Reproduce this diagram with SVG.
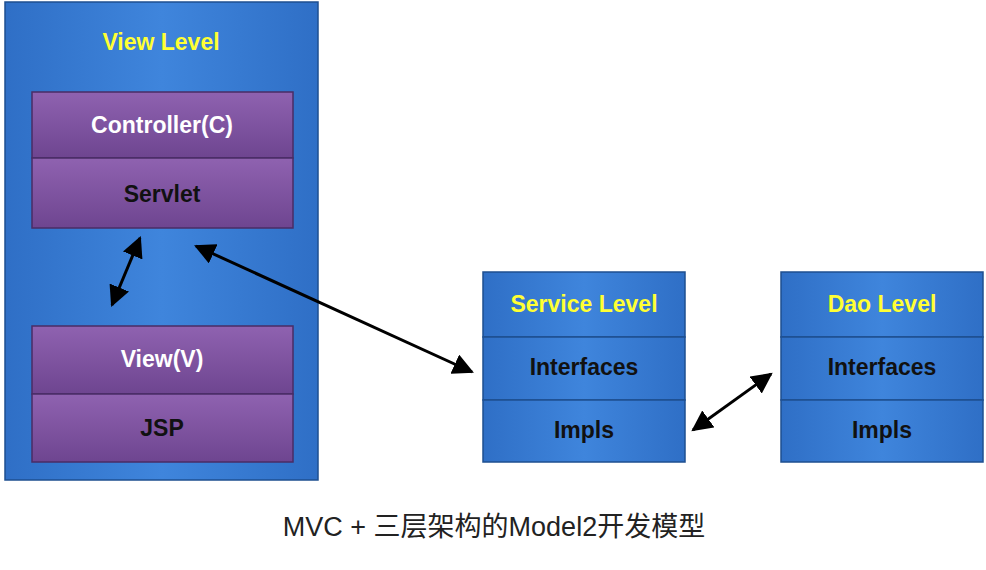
<svg xmlns="http://www.w3.org/2000/svg" width="986" height="570" viewBox="0 0 986 570">
<defs>
<linearGradient id="blue" x1="0" y1="0" x2="1" y2="0"><stop offset="0" stop-color="#2f6fc6"/><stop offset="0.5" stop-color="#3f85dc"/><stop offset="1" stop-color="#2f6fc6"/></linearGradient>
<linearGradient id="purple" x1="0" y1="0" x2="0" y2="1"><stop offset="0" stop-color="#8f62b0"/><stop offset="1" stop-color="#6e4590"/></linearGradient>
<marker id="ah" viewBox="0 0 10 10" refX="9" refY="5" markerWidth="7" markerHeight="7" orient="auto-start-reverse"><path d="M0,0 L10,5 L0,10 z" fill="#000"/></marker>
</defs>
<style>
.t{font-family:"Liberation Sans",Arial,sans-serif;font-weight:bold;font-size:23px;text-anchor:middle}
.w{fill:#fff}.d{fill:#111}.y{fill:#ffff33}
.box{stroke:#1e4f90;stroke-width:1.5}
.p{fill:url(#purple);stroke:#4a2d66;stroke-width:1.5}
.b{fill:url(#blue);stroke:#1e4f90;stroke-width:1.5}
.c{stroke:#000;stroke-width:3;fill:none;marker-start:url(#ah);marker-end:url(#ah)}
</style>
<rect width="986" height="570" fill="#fff"/>
<g id="view-level">
<rect x="5" y="2" width="313" height="478" fill="url(#blue)" class="box"/>
<text x="161" y="50" class="t y">View Level</text>
</g>
<g id="controller">
<rect x="32" y="92" width="261" height="66" class="p"/>
<rect x="32" y="158" width="261" height="70" class="p"/>
<text x="162" y="133" class="t w">Controller(C)</text>
<text x="162" y="202" class="t d">Servlet</text>
</g>
<g id="view">
<rect x="32" y="326" width="261" height="68" class="p"/>
<rect x="32" y="394" width="261" height="68" class="p"/>
<text x="162" y="367" class="t w">View(V)</text>
<text x="162" y="436" class="t d">JSP</text>
</g>
<g id="service">
<rect x="483" y="272" width="202" height="65" class="b"/>
<rect x="483" y="337" width="202" height="63" class="b"/>
<rect x="483" y="400" width="202" height="62" class="b"/>
<text x="584" y="312" class="t y">Service  Level</text>
<text x="584" y="375" class="t d">Interfaces</text>
<text x="584" y="438" class="t d">Impls</text>
</g>
<g id="dao">
<rect x="781" y="272" width="202" height="65" class="b"/>
<rect x="781" y="337" width="202" height="63" class="b"/>
<rect x="781" y="400" width="202" height="62" class="b"/>
<text x="882" y="312" class="t y">Dao Level</text>
<text x="882" y="375" class="t d">Interfaces</text>
<text x="882" y="438" class="t d">Impls</text>
</g>
<g id="connectors">
<line x1="140" y1="238" x2="112" y2="305" class="c"/>
<line x1="196" y1="246" x2="472" y2="372" class="c"/>
<line x1="693" y1="430" x2="771" y2="374" class="c"/>
</g>
<text x="494" y="536" style="font-family:'Liberation Sans','Noto Sans CJK SC',sans-serif;font-size:27px;text-anchor:middle;fill:#222">MVC + 三层架构的Model2开发模型</text>
</svg>
